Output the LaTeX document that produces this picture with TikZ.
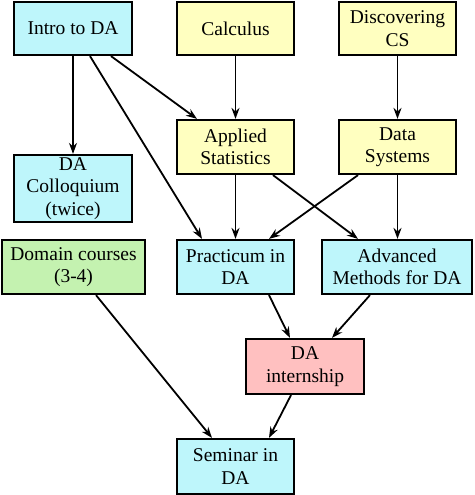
\documentclass[tikz,border=0pt]{standalone}
\usepackage{fontspec}
\setmainfont{Liberation Serif}
\usetikzlibrary{arrows.meta}
\definecolor{boxcyan}{RGB}{190,246,251}
\definecolor{boxyellow}{RGB}{255,255,192}
\definecolor{boxgreen}{RGB}{196,242,176}
\definecolor{boxred}{RGB}{255,192,192}
\begin{document}
\begin{tikzpicture}[x=1pt,y=-1pt,
  course/.style={draw=black, line width=2.2pt, align=center, inner sep=0pt,
    font=\fontsize{19.5}{22.5}\selectfont},
  cy/.style={course, fill=boxcyan},
  ye/.style={course, fill=boxyellow},
  gr/.style={course, fill=boxgreen},
  rd/.style={course, fill=boxred},
  link/.style={line width=1.8pt, -{Stealth[length=11pt,width=8pt]}}]
\useasboundingbox (0,0) rectangle (474,495);
\node[cy, minimum width=118pt, minimum height=53pt] (intro) at (73,28.5) {Intro to DA};
\node[ye, minimum width=117pt, minimum height=53pt] (calc) at (235.5,28.5) {Calculus};
\node[ye, minimum width=117pt, minimum height=53pt] (disc) at (397.5,28.5) {Discovering\\CS};
\node[ye, minimum width=117pt, minimum height=54pt] (stats) at (235.5,147) {Applied\\Statistics};
\node[ye, minimum width=117pt, minimum height=54pt] (dsys) at (397.5,147) {Data\\Systems};
\node[cy, minimum width=118pt, minimum height=67pt] (coll) at (73,188.5) {DA\\Colloquium\\(twice)};
\node[gr, minimum width=143pt, minimum height=54pt] (domain) at (73.5,267) {Domain courses\\(3-4)};
\node[cy, minimum width=117pt, minimum height=54pt] (prac) at (235.5,267) {Practicum in\\DA};
\node[cy, minimum width=150pt, minimum height=54pt] (adv) at (397,267) {Advanced\\Methods for DA};
\node[rd, minimum width=118pt, minimum height=55pt] (intern) at (305,366.5) {DA\\internship};
\node[cy, minimum width=117pt, minimum height=55pt] (sem) at (235.5,466.5) {Seminar in\\DA};

\draw[link] (intro.south) -- (coll.north);
\draw[link] ([xshift=17pt]intro.south) -- ([xshift=-33.5pt]prac.north);
\draw[link] ([xshift=38pt]intro.south) -- ([xshift=-38.5pt]stats.north);
\draw[link] (calc.south) -- (stats.north);
\draw[link] (disc.south) -- (dsys.north);
\draw[link] (stats.south) -- (prac.north);
\draw[link] ([xshift=37.5pt]stats.south) -- ([xshift=-39pt]adv.north);
\draw[link] ([xshift=-39.5pt]dsys.south) -- ([xshift=33.5pt]prac.north);
\draw[link] (dsys.south) -- (dsys.south |- adv.north);
\draw[link] ([xshift=33.5pt]prac.south) -- ([xshift=-15pt]intern.north);
\draw[link] ([xshift=-27pt]adv.south) -- ([xshift=27pt]intern.north);
\draw[link] ([xshift=22.5pt]domain.south) -- ([xshift=-23.5pt]sem.north);
\draw[link] ([xshift=-14pt]intern.south) -- ([xshift=33.5pt]sem.north);
\end{tikzpicture}
\end{document}
